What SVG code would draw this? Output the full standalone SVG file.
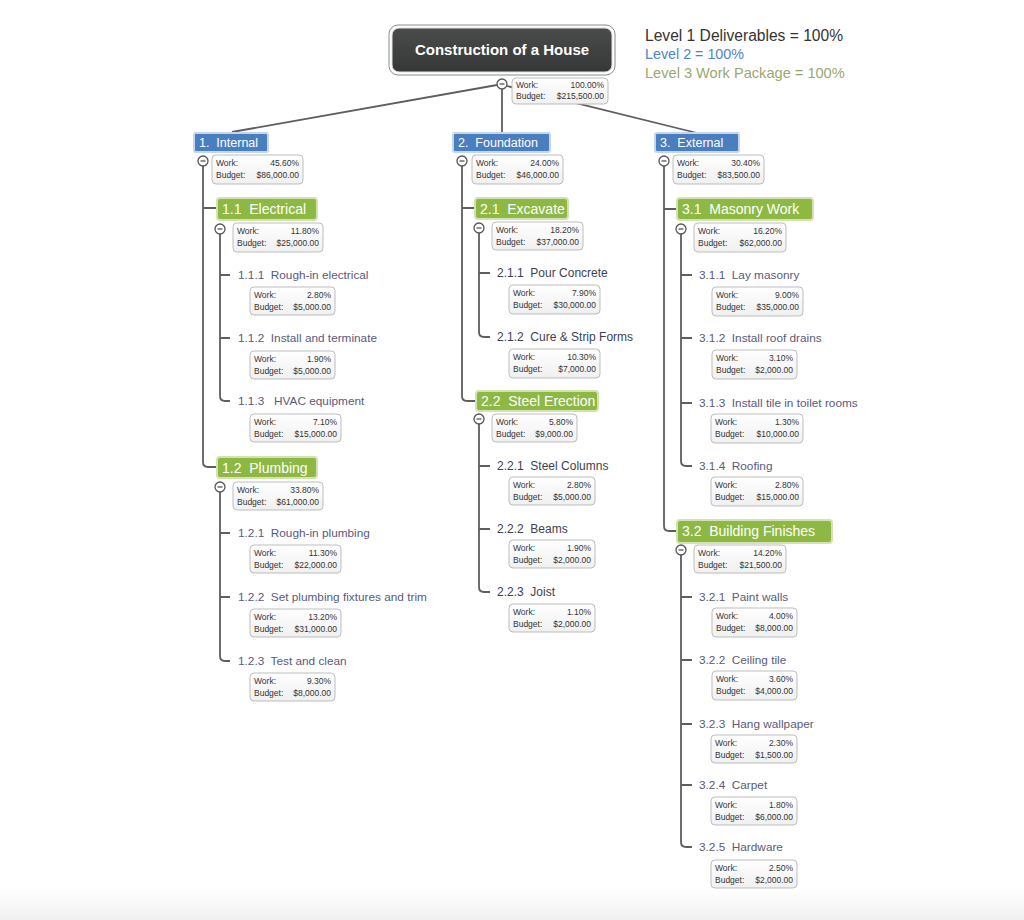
<svg xmlns="http://www.w3.org/2000/svg" width="1024" height="920" viewBox="0 0 1024 920" xml:space="preserve">
<defs>
<linearGradient id="bg" x1="0" y1="0" x2="0" y2="1"><stop offset="0" stop-color="#ffffff"/><stop offset="1" stop-color="#f0f0f0"/></linearGradient>
<linearGradient id="ib" x1="0" y1="0" x2="0" y2="1"><stop offset="0" stop-color="#ffffff"/><stop offset="1" stop-color="#f0f0f0"/></linearGradient>
<linearGradient id="rootg" x1="0" y1="0" x2="0" y2="1"><stop offset="0" stop-color="#4a4c4c"/><stop offset="1" stop-color="#363838"/></linearGradient>
</defs>
<style>
text{font-family:"Liberation Sans",Arial,sans-serif;white-space:pre}
.conn{fill:none;stroke:#5e5e5e;stroke-width:1.8}
.col{fill:#fff;stroke:#555;stroke-width:1.3}
.colm{stroke:#555;stroke-width:1.3}
.info{fill:url(#ib);stroke:#bdbdbd;stroke-width:1}
.it{font-size:8.5px;fill:#333}
.itr{font-size:8.5px;fill:#333;text-anchor:end}
.l1{fill:#4a7ebf;stroke:#c5d5ea;stroke-width:2}
.l1t{font-size:12.5px;fill:#fff}
.l2{fill:#8db843;stroke:#d3e2b0;stroke-width:2}
.l2t{font-size:14px;fill:#fff}
.l3t{font-size:11.8px;fill:#5a5a7c}
.l3d{font-size:12px;fill:#3e3e50}
</style>
<rect x="0" y="0" width="1024" height="920" fill="#ffffff"/>
<rect x="0" y="888" width="1024" height="32" fill="url(#bg)"/>

<g id="connectors">
<path class="conn" d="M497,85 L232,132"/>
<path class="conn" d="M502,89 L502,133"/>
<path class="conn" d="M507,86 L697,133"/>
<path class="conn" d="M203,166 V462 Q203,467 208,467 H217 M203,208 H217"/>
<path class="conn" d="M220,234 V396 Q220,401 225,401 H230 M220,275 H230 M220,338 H230"/>
<path class="conn" d="M220,492 V656 Q220,661 225,661 H230 M220,533 H230 M220,597 H230"/>
<path class="conn" d="M462,166 V396 Q462,401 467,401 H476 M462,208 H476"/>
<path class="conn" d="M479,233 V332 Q479,337 484,337 H490 M479,273 H490"/>
<path class="conn" d="M479,424 V587 Q479,592 484,592 H490 M479,466 H490 M479,529 H490"/>
<path class="conn" d="M664,166 V526 Q664,531 669,531 H677 M664,209 H677"/>
<path class="conn" d="M681,234 V461 Q681,466 686,466 H692 M681,275 H692 M681,338 H692 M681,403 H692"/>
<path class="conn" d="M681,555 V842 Q681,847 686,847 H692 M681,597 H692 M681,660 H692 M681,724 H692 M681,785 H692"/>
</g>

<g id="legend">
<text x="645" y="41" font-size="15.6" fill="#333">Level 1 Deliverables = 100%</text>
<text x="645" y="59" font-size="14.3" fill="#4a86c8">Level 2 = 100%</text>
<text x="645" y="78" font-size="14.6" fill="#9aa870">Level 3 Work Package = 100%</text>
</g>

<g id="root">
<rect x="389" y="25" width="226" height="50" rx="9" fill="#fff" stroke="#8a8a8a" stroke-width="1"/>
<rect x="392" y="28" width="220" height="44" rx="7" fill="url(#rootg)" stroke="#e0e0e0" stroke-width="1"/>
<text x="502" y="55" font-size="15" font-weight="bold" fill="#fff" text-anchor="middle">Construction of a House</text>
<circle class="col" cx="502" cy="84" r="5"/><path class="colm" d="M499.5,84 H504.5"/>
<rect class="info" x="512" y="78" width="96" height="26" rx="4"/>
<text class="it" x="516" y="88">Work:</text><text class="itr" x="604" y="88">100.00%</text>
<text class="it" x="516" y="99">Budget:</text><text class="itr" x="604" y="99">$215,500.00</text>
</g>

<g id="n1">
<rect class="l1" x="194" y="133" width="74" height="19" rx="2"/>
<text class="l1t" x="199" y="147">1.  Internal</text>
<circle class="col" cx="203" cy="161" r="5"/><path class="colm" d="M200.5,161 H205.5"/>
<rect class="info" x="212" y="155" width="91" height="29" rx="4"/>
<text class="it" x="216" y="166">Work:</text><text class="itr" x="299" y="166">45.60%</text>
<text class="it" x="216" y="178">Budget:</text><text class="itr" x="299" y="178">$86,000.00</text>
</g>

<g id="n1_1">
<rect class="l2" x="217" y="198" width="100" height="22" rx="3"/>
<text class="l2t" x="222" y="214">1.1  Electrical</text>
<circle class="col" cx="220" cy="229" r="5"/><path class="colm" d="M217.5,229 H222.5"/>
<rect class="info" x="233" y="223" width="90" height="29" rx="4"/>
<text class="it" x="237" y="234">Work:</text><text class="itr" x="319" y="234">11.80%</text>
<text class="it" x="237" y="246">Budget:</text><text class="itr" x="319" y="246">$25,000.00</text>
</g>

<g id="n1_1_1">
<text class="l3t" x="238" y="279">1.1.1  Rough-in electrical</text>
<rect class="info" x="250" y="287" width="85" height="28" rx="4"/>
<text class="it" x="254" y="298">Work:</text><text class="itr" x="331" y="298">2.80%</text>
<text class="it" x="254" y="310">Budget:</text><text class="itr" x="331" y="310">$5,000.00</text>
</g>
<g id="n1_1_2">
<text class="l3t" x="238" y="342">1.1.2  Install and terminate</text>
<rect class="info" x="250" y="351" width="85" height="28" rx="4"/>
<text class="it" x="254" y="362">Work:</text><text class="itr" x="331" y="362">1.90%</text>
<text class="it" x="254" y="374">Budget:</text><text class="itr" x="331" y="374">$5,000.00</text>
</g>
<g id="n1_1_3">
<text class="l3t" x="238" y="405">1.1.3   HVAC equipment</text>
<rect class="info" x="250" y="414" width="91" height="28" rx="4"/>
<text class="it" x="254" y="425">Work:</text><text class="itr" x="337" y="425">7.10%</text>
<text class="it" x="254" y="437">Budget:</text><text class="itr" x="337" y="437">$15,000.00</text>
</g>

<g id="n1_2">
<rect class="l2" x="217" y="457" width="100" height="21" rx="3"/>
<text class="l2t" x="222" y="473">1.2  Plumbing</text>
<circle class="col" cx="220" cy="487" r="5"/><path class="colm" d="M217.5,487 H222.5"/>
<rect class="info" x="233" y="482" width="90" height="28" rx="4"/>
<text class="it" x="237" y="493">Work:</text><text class="itr" x="319" y="493">33.80%</text>
<text class="it" x="237" y="505">Budget:</text><text class="itr" x="319" y="505">$61,000.00</text>
</g>
<g id="n1_2_1">
<text class="l3t" x="238" y="537">1.2.1  Rough-in plumbing</text>
<rect class="info" x="250" y="545" width="91" height="28" rx="4"/>
<text class="it" x="254" y="556">Work:</text><text class="itr" x="337" y="556">11.30%</text>
<text class="it" x="254" y="568">Budget:</text><text class="itr" x="337" y="568">$22,000.00</text>
</g>
<g id="n1_2_2">
<text class="l3t" x="238" y="601">1.2.2  Set plumbing fixtures and trim</text>
<rect class="info" x="250" y="609" width="91" height="28" rx="4"/>
<text class="it" x="254" y="620">Work:</text><text class="itr" x="337" y="620">13.20%</text>
<text class="it" x="254" y="632">Budget:</text><text class="itr" x="337" y="632">$31,000.00</text>
</g>
<g id="n1_2_3">
<text class="l3t" x="238" y="665">1.2.3  Test and clean</text>
<rect class="info" x="250" y="673" width="85" height="28" rx="4"/>
<text class="it" x="254" y="684">Work:</text><text class="itr" x="331" y="684">9.30%</text>
<text class="it" x="254" y="696">Budget:</text><text class="itr" x="331" y="696">$8,000.00</text>
</g>

<g id="n2">
<rect class="l1" x="453" y="133" width="97" height="19" rx="2"/>
<text class="l1t" x="458" y="147">2.  Foundation</text>
<circle class="col" cx="462" cy="161" r="5"/><path class="colm" d="M459.5,161 H464.5"/>
<rect class="info" x="472" y="155" width="91" height="29" rx="4"/>
<text class="it" x="476" y="166">Work:</text><text class="itr" x="559" y="166">24.00%</text>
<text class="it" x="476" y="178">Budget:</text><text class="itr" x="559" y="178">$46,000.00</text>
</g>
<g id="n2_1">
<rect class="l2" x="475" y="198" width="93" height="21" rx="3"/>
<text class="l2t" x="480" y="214">2.1  Excavate</text>
<circle class="col" cx="479" cy="228" r="5"/><path class="colm" d="M476.5,228 H481.5"/>
<rect class="info" x="492" y="222" width="91" height="28" rx="4"/>
<text class="it" x="496" y="233">Work:</text><text class="itr" x="579" y="233">18.20%</text>
<text class="it" x="496" y="245">Budget:</text><text class="itr" x="579" y="245">$37,000.00</text>
</g>
<g id="n2_1_1">
<text class="l3d" x="497" y="277">2.1.1  Pour Concrete</text>
<rect class="info" x="509" y="285" width="91" height="29" rx="4"/>
<text class="it" x="513" y="296">Work:</text><text class="itr" x="596" y="296">7.90%</text>
<text class="it" x="513" y="308">Budget:</text><text class="itr" x="596" y="308">$30,000.00</text>
</g>
<g id="n2_1_2">
<text class="l3d" x="497" y="341">2.1.2  Cure &amp; Strip Forms</text>
<rect class="info" x="509" y="349" width="91" height="29" rx="4"/>
<text class="it" x="513" y="360">Work:</text><text class="itr" x="596" y="360">10.30%</text>
<text class="it" x="513" y="372">Budget:</text><text class="itr" x="596" y="372">$7,000.00</text>
</g>
<g id="n2_2">
<rect class="l2" x="476" y="391" width="122" height="20" rx="3"/>
<text class="l2t" x="481" y="406">2.2  Steel Erection</text>
<circle class="col" cx="479" cy="419" r="5"/><path class="colm" d="M476.5,419 H481.5"/>
<rect class="info" x="492" y="414" width="85" height="28" rx="4"/>
<text class="it" x="496" y="425">Work:</text><text class="itr" x="573" y="425">5.80%</text>
<text class="it" x="496" y="437">Budget:</text><text class="itr" x="573" y="437">$9,000.00</text>
</g>
<g id="n2_2_1">
<text class="l3d" x="497" y="470">2.2.1  Steel Columns</text>
<rect class="info" x="509" y="477" width="86" height="28" rx="4"/>
<text class="it" x="513" y="488">Work:</text><text class="itr" x="591" y="488">2.80%</text>
<text class="it" x="513" y="500">Budget:</text><text class="itr" x="591" y="500">$5,000.00</text>
</g>
<g id="n2_2_2">
<text class="l3d" x="497" y="533">2.2.2  Beams</text>
<rect class="info" x="509" y="540" width="86" height="28" rx="4"/>
<text class="it" x="513" y="551">Work:</text><text class="itr" x="591" y="551">1.90%</text>
<text class="it" x="513" y="563">Budget:</text><text class="itr" x="591" y="563">$2,000.00</text>
</g>
<g id="n2_2_3">
<text class="l3d" x="497" y="596">2.2.3  Joist</text>
<rect class="info" x="509" y="604" width="86" height="28" rx="4"/>
<text class="it" x="513" y="615">Work:</text><text class="itr" x="591" y="615">1.10%</text>
<text class="it" x="513" y="627">Budget:</text><text class="itr" x="591" y="627">$2,000.00</text>
</g>

<g id="n3">
<rect class="l1" x="655" y="133" width="84" height="19" rx="2"/>
<text class="l1t" x="660" y="147">3.  External</text>
<circle class="col" cx="664" cy="161" r="5"/><path class="colm" d="M661.5,161 H666.5"/>
<rect class="info" x="673" y="155" width="91" height="29" rx="4"/>
<text class="it" x="677" y="166">Work:</text><text class="itr" x="760" y="166">30.40%</text>
<text class="it" x="677" y="178">Budget:</text><text class="itr" x="760" y="178">$83,500.00</text>
</g>
<g id="n3_1">
<rect class="l2" x="677" y="198" width="136" height="22" rx="3"/>
<text class="l2t" x="682" y="214">3.1  Masonry Work</text>
<circle class="col" cx="681" cy="229" r="5"/><path class="colm" d="M678.5,229 H683.5"/>
<rect class="info" x="694" y="223" width="92" height="29" rx="4"/>
<text class="it" x="698" y="234">Work:</text><text class="itr" x="782" y="234">16.20%</text>
<text class="it" x="698" y="246">Budget:</text><text class="itr" x="782" y="246">$62,000.00</text>
</g>
<g id="n3_1_1">
<text class="l3t" x="699" y="279">3.1.1  Lay masonry</text>
<rect class="info" x="712" y="287" width="91" height="29" rx="4"/>
<text class="it" x="716" y="298">Work:</text><text class="itr" x="799" y="298">9.00%</text>
<text class="it" x="716" y="310">Budget:</text><text class="itr" x="799" y="310">$35,000.00</text>
</g>
<g id="n3_1_2">
<text class="l3t" x="699" y="342">3.1.2  Install roof drains</text>
<rect class="info" x="712" y="350" width="85" height="29" rx="4"/>
<text class="it" x="716" y="361">Work:</text><text class="itr" x="793" y="361">3.10%</text>
<text class="it" x="716" y="373">Budget:</text><text class="itr" x="793" y="373">$2,000.00</text>
</g>
<g id="n3_1_3">
<text class="l3t" x="699" y="407">3.1.3  Install tile in toilet rooms</text>
<rect class="info" x="711" y="414" width="92" height="29" rx="4"/>
<text class="it" x="715" y="425">Work:</text><text class="itr" x="799" y="425">1.30%</text>
<text class="it" x="715" y="437">Budget:</text><text class="itr" x="799" y="437">$10,000.00</text>
</g>
<g id="n3_1_4">
<text class="l3t" x="699" y="470">3.1.4  Roofing</text>
<rect class="info" x="711" y="477" width="92" height="29" rx="4"/>
<text class="it" x="715" y="488">Work:</text><text class="itr" x="799" y="488">2.80%</text>
<text class="it" x="715" y="500">Budget:</text><text class="itr" x="799" y="500">$15,000.00</text>
</g>
<g id="n3_2">
<rect class="l2" x="677" y="520" width="155" height="23" rx="3"/>
<text class="l2t" x="682" y="536">3.2  Building Finishes</text>
<circle class="col" cx="681" cy="550" r="5"/><path class="colm" d="M678.5,550 H683.5"/>
<rect class="info" x="694" y="545" width="92" height="28" rx="4"/>
<text class="it" x="698" y="556">Work:</text><text class="itr" x="782" y="556">14.20%</text>
<text class="it" x="698" y="568">Budget:</text><text class="itr" x="782" y="568">$21,500.00</text>
</g>
<g id="n3_2_1">
<text class="l3t" x="699" y="601">3.2.1  Paint walls</text>
<rect class="info" x="712" y="608" width="85" height="29" rx="4"/>
<text class="it" x="716" y="619">Work:</text><text class="itr" x="793" y="619">4.00%</text>
<text class="it" x="716" y="631">Budget:</text><text class="itr" x="793" y="631">$8,000.00</text>
</g>
<g id="n3_2_2">
<text class="l3t" x="699" y="664">3.2.2  Ceiling tile</text>
<rect class="info" x="712" y="671" width="85" height="29" rx="4"/>
<text class="it" x="716" y="682">Work:</text><text class="itr" x="793" y="682">3.60%</text>
<text class="it" x="716" y="694">Budget:</text><text class="itr" x="793" y="694">$4,000.00</text>
</g>
<g id="n3_2_3">
<text class="l3t" x="699" y="728">3.2.3  Hang wallpaper</text>
<rect class="info" x="711" y="735" width="86" height="28" rx="4"/>
<text class="it" x="715" y="746">Work:</text><text class="itr" x="793" y="746">2.30%</text>
<text class="it" x="715" y="758">Budget:</text><text class="itr" x="793" y="758">$1,500.00</text>
</g>
<g id="n3_2_4">
<text class="l3t" x="699" y="789">3.2.4  Carpet</text>
<rect class="info" x="711" y="797" width="86" height="28" rx="4"/>
<text class="it" x="715" y="808">Work:</text><text class="itr" x="793" y="808">1.80%</text>
<text class="it" x="715" y="820">Budget:</text><text class="itr" x="793" y="820">$6,000.00</text>
</g>
<g id="n3_2_5">
<text class="l3t" x="699" y="851">3.2.5  Hardware</text>
<rect class="info" x="711" y="860" width="86" height="28" rx="4"/>
<text class="it" x="715" y="871">Work:</text><text class="itr" x="793" y="871">2.50%</text>
<text class="it" x="715" y="883">Budget:</text><text class="itr" x="793" y="883">$2,000.00</text>
</g>
</svg>
